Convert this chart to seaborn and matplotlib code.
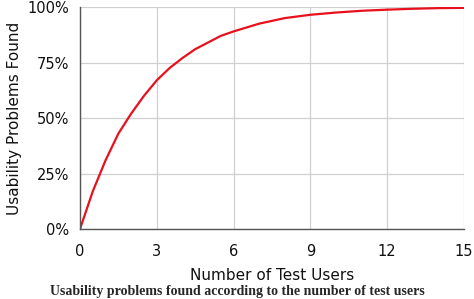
import matplotlib
matplotlib.use("Agg")
import matplotlib.pyplot as plt
import seaborn as sns
import pandas as pd
from matplotlib.ticker import FuncFormatter

test_users = [0, 0.5, 1, 1.5, 2, 2.5, 3, 3.5, 4, 4.5, 5, 5.5, 6, 7, 8, 9, 10, 11, 12, 13, 14, 15]
problems_found = [0, 17, 31, 43, 52, 60, 67, 72.5, 77, 81, 84, 87, 89, 92.5, 95, 96.5, 97.5, 98.3, 98.8, 99.2, 99.5, 99.6]
x_ticks = [0, 3, 6, 9, 12, 15]
y_ticks = [0, 25, 50, 75, 100]

df = pd.DataFrame({"users": test_users, "found": problems_found})

sns.set_style("white")
plt.rcParams['font.family'] = ['DejaVu Sans']

fig = plt.figure(figsize=(4.74, 2.99), dpi=100)
ax = fig.add_axes([80/474, 1 - 229/299, (464-80)/474, (229-7)/299])

sns.lineplot(data=df, x="users", y="found", ax=ax, color="#e8101c", linewidth=1.6)

ax.set_xlim(0, 15)
ax.set_ylim(0, 100)
ax.set_xticks(x_ticks)
ax.set_yticks(y_ticks)
ax.yaxis.set_major_formatter(FuncFormatter(lambda v, p: f"{int(v)}%"))
ax.grid(True, color="#d0d0d0", linewidth=0.9)
ax.set_axisbelow(True)
for s in ["top", "right"]:
    ax.spines[s].set_visible(False)
for s in ["left", "bottom"]:
    ax.spines[s].set_color("#555555")
    ax.spines[s].set_linewidth(1.0)
ax.tick_params(axis="x", direction="inout", length=9, width=1, color="#555555",
               labelsize=10.5, pad=6, labelcolor="#111111")
ax.tick_params(axis="y", direction="out", length=4, width=1, color="#555555",
               labelsize=10.5, pad=4, labelcolor="#111111")
ax.set_xlabel("Number of Test Users", fontsize=11, labelpad=7, color="#111111")
ax.set_ylabel("Usability Problems Found", fontsize=11, labelpad=4, color="#111111")

fig.text(0.5, 0.004, "Usability problems found according to the number of test users",
         fontsize=10, fontweight="bold", family="Liberation Serif", ha="center", va="bottom")

fig.savefig("out.png", dpi=100)
